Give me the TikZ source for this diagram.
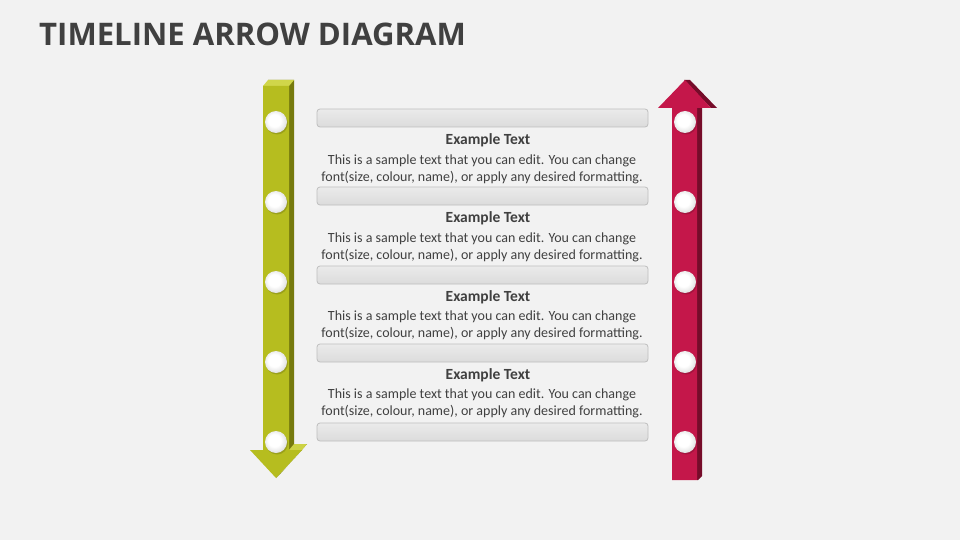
\documentclass[tikz,border=0pt]{standalone}
\usepackage{fontspec}
\setmainfont{Carlito}
\newfontfamily\titlefont{Open Sans}
\usetikzlibrary{shadings}
\definecolor{bg}{RGB}{242,242,242}
\definecolor{txt}{RGB}{64,64,64}
\definecolor{olivefront}{RGB}{182,189,31}
\definecolor{oliveside}{RGB}{118,122,14}
\definecolor{olivetop}{RGB}{208,214,74}
\definecolor{redfront}{RGB}{196,23,74}
\definecolor{redside}{RGB}{118,12,42}
\definecolor{barline}{RGB}{190,190,190}
\pgfdeclareradialshading{whiteball}{\pgfpoint{-5bp}{5bp}}{color(0bp)=(white); color(14bp)=(white); color(24bp)=(white!91!black); color(32bp)=(white!78!black); color(50bp)=(white!75!black)}
\tikzset{
  bar/.style={draw=barline, line width=0.8pt, rounded corners=3pt, top color=white!92!black, bottom color=white!86!black},
  ball/.style={circle, minimum size=22pt, inner sep=0pt, shading=whiteball},
  ballshadow/.style={circle, minimum size=22pt, inner sep=0pt, fill=black, opacity=0.15},
  headtxt/.style={font=\fontsize{15.5}{18}\selectfont\bfseries, text=txt, inner sep=0pt},
  bodytxt/.style={font=\fontsize{14}{17}\selectfont, text=txt, align=center, inner sep=0pt},
}
\begin{document}
\begin{tikzpicture}[x=1pt,y=-1pt]
\fill[bg] (0,0) rectangle (960,540);
\useasboundingbox (0,0) rectangle (960,540);
% title
\node[anchor=base west, inner sep=0pt, text=txt, font=\titlefont\bfseries\fontsize{31.1}{36}\selectfont] (title) at (39,46) {TIMELINE ARROW DIAGRAM};

% ---------- left (olive, pointing down) ----------
\fill[oliveside] (268,80) -- (294,80) -- (294,444) -- (307,444) -- (281,473) -- (276,478) -- (302,450) -- (289,450) -- (289,86) -- cycle;
\fill[olivetop] (263,86) -- (268,80) -- (294,80) -- (289,86) -- cycle;
\fill[olivetop!85!olivefront] (289,450) -- (294,444) -- (307,444) -- (302,450) -- cycle;
\fill[olivefront] (263,86) -- (289,86) -- (289,450) -- (302,450) -- (276,478) -- (250,450) -- (263,450) -- cycle;

% ---------- right (crimson, pointing up) ----------
\fill[redside] (684,80) -- (690,80) -- (717,108) -- (702,108) -- (702,476) -- (698,480) -- (697,480) -- (697,108) -- (711,108) -- cycle;
\fill[redfront] (672,108) -- (658,108) -- (685,80) -- (711,108) -- (697,108) -- (697,480) -- (672,480) -- cycle;

% ---------- balls ----------
\foreach \i/\yy in {1/122,2/202,3/282,4/362,5/442}{
  \node[ballshadow] (ls\i) at (277,\yy+1.5) {};
  \node[ball] (lb\i) at (276,\yy) {};
  \node[ballshadow] (rs\i) at (686,\yy+1.5) {};
  \node[ball] (rb\i) at (685,\yy) {};
}

% ---------- bars ----------
\foreach \i/\ya/\yb in {1/109/127,2/187/205,3/266/284,4/344/362,5/423/441}{
  \path[bar] (317,\ya) rectangle (648,\yb);
  \coordinate (bar\i) at (482.5,\ya);
}

% ---------- texts ----------
\foreach \i/\yh/\yt in {1/140/169,2/218/247,3/297/325,4/375/403}{
  \node[headtxt] (h\i) at (488,\yh) {Example Text};
  \node[bodytxt] (t\i) at (482,\yt) {This is a sample text that you can edit. You can change\\font(size, colour, name), or apply any desired formatting.};
}
\end{tikzpicture}
\end{document}
